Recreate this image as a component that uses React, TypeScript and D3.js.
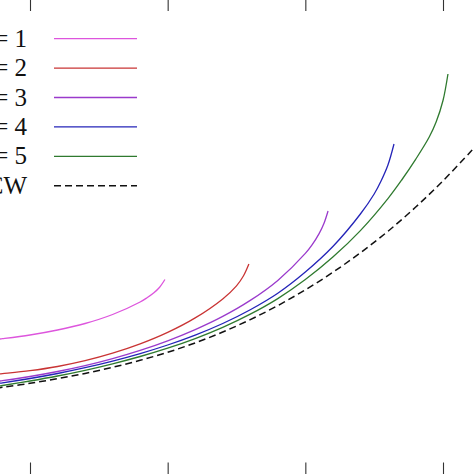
import React, { useEffect, useRef } from "react";
import * as d3 from "d3";

type Pt = [number, number];

const seriesLabels = ["N = 1", "N = 2", "N = 3", "N = 4", "N = 5", "CW"];
const seriesColors = ["#dd55dd", "#c93434", "#9a3acc", "#2424b8", "#2f7a2f", "#111111"];

const n1: Pt[] = [
  [0.75, 1.345], [0.8, 1.353], [1.0, 1.39], [1.2, 1.44], [1.4, 1.505], [1.6, 1.595],
  [1.8, 1.72], [1.85, 1.762], [1.9, 1.812], [1.94, 1.865], [1.98, 1.945],
];
const n2: Pt[] = [
  [0.75, 0.996], [0.8, 1.003], [1.0, 1.033], [1.2, 1.075], [1.4, 1.133], [1.6, 1.208],
  [1.8, 1.301], [2.0, 1.416], [2.2, 1.561], [2.4, 1.751], [2.5, 1.882], [2.55, 1.98],
  [2.59, 2.1],
];
const n3: Pt[] = [
  [0.75, 0.925], [0.8, 0.933], [1.0, 0.975], [1.2, 1.025], [1.4, 1.084], [1.6, 1.154],
  [1.8, 1.236], [2.0, 1.332], [2.2, 1.444], [2.4, 1.576], [2.6, 1.736], [2.8, 1.936],
  [3.0, 2.206], [3.05, 2.294], [3.1, 2.404], [3.135, 2.505], [3.165, 2.63],
];
const n4: Pt[] = [
  [0.75, 0.903], [0.8, 0.912], [1.0, 0.955], [1.2, 1.005], [1.4, 1.063], [1.6, 1.129],
  [1.8, 1.204], [2.0, 1.29], [2.2, 1.389], [2.4, 1.505], [2.6, 1.643], [2.8, 1.808],
  [3.0, 2.02], [3.2, 2.275], [3.4, 2.6], [3.5, 2.8], [3.55, 2.93], [3.6, 3.09],
  [3.644, 3.3],
];
const n5: Pt[] = [
  [0.75, 0.875], [0.8, 0.885], [1.0, 0.93], [1.2, 0.98], [1.4, 1.037], [1.6, 1.102],
  [1.8, 1.175], [2.0, 1.258], [2.2, 1.354], [2.4, 1.466], [2.6, 1.598], [2.8, 1.754],
  [3.0, 1.944], [3.2, 2.169], [3.4, 2.434], [3.6, 2.754], [3.7, 2.94], [3.8, 3.144],
  [3.9, 3.37], [3.95, 3.52], [4.0, 3.735], [4.036, 4.0],
];
const cw: Pt[] = [
  [0.75, 0.857], [0.8, 0.867], [1.0, 0.907], [1.2, 0.953], [1.4, 1.006], [1.6, 1.067],
  [1.8, 1.137], [2.0, 1.217], [2.2, 1.311], [2.4, 1.42], [2.6, 1.544], [2.8, 1.684],
  [3.0, 1.842], [3.2, 2.017], [3.4, 2.212], [3.6, 2.427], [3.8, 2.667], [4.0, 2.932],
  [4.2, 3.222], [4.25, 3.297],
];

const seriesData = [n1, n2, n3, n4, n5, cw];
const xTicks = [1, 2, 3, 4];

const W = 474;
const H = 474;

const App: React.FC = () => {
  const svgRef = useRef<SVGSVGElement>(null);

  useEffect(() => {
    if (!svgRef.current) return;
    const svg = d3.select(svgRef.current);
    svg.selectAll("*").remove();

    const x = d3.scaleLinear().domain([1, 4]).range([30, 443]);
    const y = d3.scaleLinear().domain([0, 4.74]).range([H, 0]);

    // ticks only, the frame itself is outside the crop
    const bottom = svg
      .append("g")
      .attr("transform", `translate(0, ${H + 0.5})`)
      .call(d3.axisTop(x).tickValues(xTicks).tickSize(12).tickFormat(() => ""));
    const top = svg
      .append("g")
      .attr("transform", "translate(0, -0.5)")
      .call(d3.axisBottom(x).tickValues(xTicks).tickSize(11.5).tickFormat(() => ""));
    [bottom, top].forEach((g) => {
      g.select(".domain").remove();
      g.selectAll("line").attr("stroke", "#333").attr("stroke-width", 1.1);
    });

    const line = d3
      .line<Pt>()
      .x((d) => x(d[0]))
      .y((d) => y(d[1]))
      .curve(d3.curveCatmullRom.alpha(0.5));

    seriesData.forEach((data, i) => {
      svg
        .append("path")
        .datum(data)
        .attr("d", line)
        .attr("fill", "none")
        .attr("stroke", seriesColors[i])
        .attr("stroke-width", i === 5 ? 1.5 : 1.3)
        .attr("stroke-dasharray", i === 5 ? "7,4" : null);
    });

    // legend
    const legend = svg.append("g");
    seriesLabels.forEach((label, i) => {
      const ly = 38.7 + i * 29.4;
      legend
        .append("line")
        .attr("x1", 54)
        .attr("x2", 137)
        .attr("y1", ly)
        .attr("y2", ly)
        .attr("stroke", seriesColors[i])
        .attr("stroke-width", i === 5 ? 1.5 : 1.3)
        .attr("stroke-dasharray", i === 5 ? "7,4" : null);
      legend
        .append("text")
        .attr("x", 27)
        .attr("y", ly + 8)
        .attr("text-anchor", "end")
        .attr("font-family", "'Liberation Serif', 'DejaVu Serif', serif")
        .attr("font-size", 25)
        .attr("fill", "#111")
        .text(label);
    });
  }, []);

  return (
    <svg
      ref={svgRef}
      width={W}
      height={H}
      style={{ position: "absolute", left: 0, top: 0, background: "#fff" }}
    />
  );
};

export default App;
